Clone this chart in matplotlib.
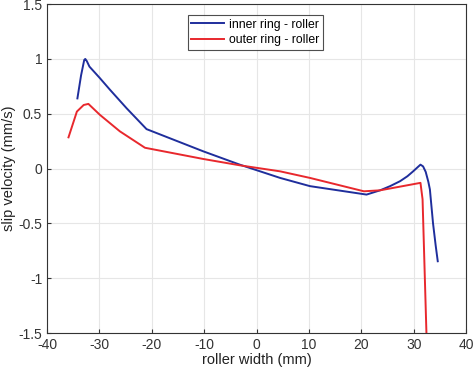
import numpy as np
import matplotlib.pyplot as plt

plt.rcParams['font.family'] = ['Liberation Sans', 'DejaVu Sans']
plt.rcParams['axes.unicode_minus'] = False

# inner ring - roller
inner_x = [-34.2, -33.5, -32.9, -32.7, -32.4, -31.9, -30.0, -28.0, -24.8, -21.0,
           -10.2, -3.2, 4.5, 10.2, 21.0, 23.6, 25.5, 27.4, 28.8, 29.9, 30.7, 31.3,
           31.8, 32.3, 32.8, 33.1, 33.7, 34.2, 34.6]
inner_y = [0.64, 0.85, 0.99, 1.0, 0.98, 0.93, 0.83, 0.72, 0.55, 0.36,
           0.158, 0.036, -0.085, -0.16, -0.237, -0.198, -0.16, -0.115, -0.07, -0.025, 0.01, 0.036,
           0.02, -0.03, -0.12, -0.19, -0.50, -0.70, -0.845]

# outer ring - roller
outer_x = [-35.9, -34.3, -33.0, -32.1, -29.9, -26.1, -21.3, -10.2, -3.2, 4.5, 10.2,
           20.5, 23.6, 31.3, 31.7, 32.5]
outer_y = [0.285, 0.52, 0.58, 0.59, 0.49, 0.34, 0.19, 0.088, 0.03, -0.025, -0.085,
           -0.207, -0.198, -0.13, -0.28, -1.6]

fig = plt.figure(figsize=(4.74, 3.73), dpi=100)
ax = fig.add_axes([0.0992, 0.107, 0.884, 0.882])
ax.plot(inner_x, inner_y, color='#1f2e9c', lw=1.4, label='inner ring - roller')
ax.plot(outer_x, outer_y, color='#e8282d', lw=1.4, label='outer ring - roller')
ax.set_xlim(-40, 40)
ax.set_ylim(-1.5, 1.5)
ax.set_xticks(np.arange(-40, 41, 10))
ax.set_yticks([-1.5, -1, -0.5, 0, 0.5, 1, 1.5])
ax.set_yticklabels(['-1.5', '-1', '-0.5', '0', '0.5', '1', '1.5'])
ax.grid(True, color='#e6e6e6', lw=0.8)
ax.tick_params(direction='in', length=3, labelsize=10, colors='#333333', top=False, right=False)
for s in ax.spines.values():
    s.set_color('#333333')
    s.set_linewidth(0.8)
ax.set_xlabel('roller width (mm)', fontsize=10.5, color='#222222', labelpad=1)
ax.set_ylabel('slip velocity (mm/s)', fontsize=10.5, color='#222222', labelpad=2)
leg = ax.legend(loc='upper center', bbox_to_anchor=(0.497, 0.967), fontsize=8.8, frameon=True,
                fancybox=False, edgecolor='#222222', handlelength=2.7, borderpad=0.3,
                labelspacing=0.3, handletextpad=0.4, borderaxespad=0)
leg.get_frame().set_linewidth(0.8)
fig.savefig('out.png', dpi=100)
